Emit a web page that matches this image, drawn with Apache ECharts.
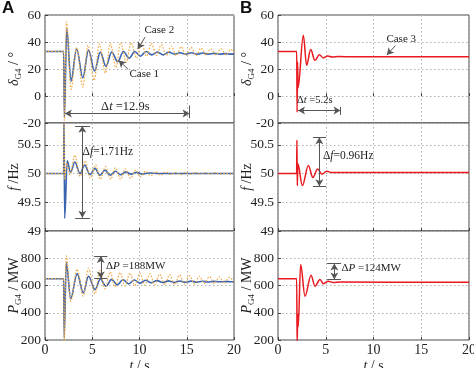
<!DOCTYPE html>
<html><head><meta charset="utf-8">
<script src="https://cdn.jsdelivr.net/npm/echarts@6/dist/echarts.min.js"></script>
<style>html,body{margin:0;padding:0;background:#fff}#c{width:474px;height:368px}</style>
</head><body><div id="c"></div>
<script>
// ---- axis ticks ----
const xTicks = [0, 5, 10, 15, 20];
const deltaTicks = [-20, 0, 20, 40, 60];
const freqTicks = [49, 49.5, 50, 50.5];
const powerTicks = [200, 400, 600, 800];
const deltaMax = 60, freqMax = 50.88, powerMax = 1000;

// ---- Panel A: Case 1 (blue), Case 2 (orange dotted) ----
const case1Delta = [[0,33],[1.97,33],[2.05,-16],[2.3,50],[2.75,11],[3.35,35],[4.0,13.5],[4.6,34],[5.25,18.5],[5.85,32.5],[6.45,22],[7.05,32.5],[7.7,25.5],[8.3,33],[8.9,28],[9.5,33],[10.1,29.5],[10.7,33],[11.3,30.5],[11.9,32.5],[12.5,30.5],[13.1,32.5],[13.7,31],[14.3,32],[14.9,31],[15.5,32],[16.1,31],[16.7,31.8],[17.3,31],[17.9,31.6],[18.5,31],[19.1,31.4],[19.7,31],[20,31.2]];
const case2Delta = [[0,33],[1.97,33],[2.05,-18],[2.28,55],[2.75,5],[3.35,36],[4.0,6.5],[4.55,37.5],[5.2,11.5],[5.75,38.5],[6.4,17],[6.9,39],[7.5,21],[8.0,39.5],[8.6,25],[9.1,39.5],[9.7,28],[10.2,39.5],[10.75,29.5],[11.25,39],[11.8,30],[12.3,38],[12.85,30],[13.35,37],[13.9,30],[14.4,36.5],[14.95,30],[15.45,36],[16.0,30],[16.5,35.5],[17.05,30.5],[17.55,35],[18.1,30.5],[18.6,35],[19.15,30.5],[19.65,34.5],[20,32]];
const case1Freq = [[0,50],[1.97,50],[2.01,51.0],[2.08,49.22],[2.35,50.22],[2.7,50.02],[3.15,50.2],[3.7,50.0],[4.2,50.15],[4.75,49.98],[5.3,50.09],[5.8,49.97],[6.35,50.06],[6.9,49.97],[7.45,50.04],[8.0,49.98],[8.55,50.03],[9.1,49.99],[9.7,50.02],[10.3,49.99],[11.0,50.01],[12.0,50],[20,50]];
const case2Freq = [[0,50],[1.97,50],[2.01,51.0],[2.08,49.9],[2.3,50.18],[2.65,49.98],[3.15,50.32],[3.7,49.95],[4.25,50.22],[4.8,49.92],[5.35,50.15],[5.85,49.9],[6.4,50.12],[6.95,49.9],[7.45,50.1],[8.0,49.9],[8.5,50.08],[9.05,49.92],[9.6,50.06],[10.1,49.94],[10.65,50.04],[11.2,49.96],[11.7,50.03],[12.25,49.97],[12.75,50.03],[13.3,49.98],[13.8,50.02],[14.35,49.98],[14.85,50.02],[15.4,49.99],[15.9,50.02],[16.45,49.99],[17.0,50.015],[17.5,49.99],[18.0,50.015],[18.55,49.99],[19.1,50.01],[19.6,49.99],[20,50]];
const case1Power = [[0,650],[1.97,650],[2.03,220],[2.25,768],[2.72,504],[3.4,687],[4.05,546],[4.6,668],[5.3,570],[5.85,648],[6.45,595],[7.05,645],[7.65,605],[8.25,642],[8.85,612],[9.45,640],[10.05,617],[10.65,638],[11.25,620],[11.85,636],[12.45,622],[13.05,634],[13.65,623],[14.25,633],[14.85,624],[15.45,632],[16.05,625],[16.65,631],[17.25,626],[17.85,630],[18.45,627],[19.05,629],[19.65,627.5],[20,628]];
const case2Power = [[0,650],[1.97,650],[2.03,190],[2.25,817],[2.72,484],[3.4,719],[4.05,521],[4.6,725],[5.3,539],[5.8,712],[6.35,575],[6.9,700],[7.4,590],[7.95,695],[8.45,597],[9.0,692],[9.5,600],[10.05,690],[10.55,602],[11.1,686],[11.6,605],[12.15,683],[12.65,607],[13.2,680],[13.7,608],[14.25,676],[14.75,610],[15.3,672],[15.8,612],[16.35,668],[16.85,613],[17.4,665],[17.9,614],[18.45,663],[18.95,615],[19.5,660],[20,630]];

// ---- Panel B: Case 3 (red) ----
const case3Delta = [[0,33],[1.96,33],[2.0,-12],[2.05,25],[2.1,6],[2.65,45],[3.0,22.7],[3.42,34.4],[3.87,26.4],[4.33,30.5],[4.75,28.2],[5.2,29.6],[5.7,28.8],[6.3,29.2],[8,29],[20,29]];
const case3Freq = [[0,50],[1.95,50],[1.98,50.58],[2.02,49.79],[2.08,50.17],[2.55,49.79],[3.18,50.14],[3.65,49.93],[4.15,50.08],[4.6,49.99],[5.1,50.04],[5.6,50.02],[20,50.02]];
const case3Power = [[0,650],[1.96,650],[2.0,170],[2.07,390],[2.12,300],[2.37,755],[2.83,521],[3.46,676],[3.87,595],[4.4,644],[4.75,613],[5.27,632],[5.8,622],[6.5,625],[20,624]];

// ---- annotations (data units) ----
const dtA = {from:[2.1,-13], to:[15.3,-13], tick:[[15.3,-7],[15.3,-16.5]], text:[8.5,-8.2], label:' =12.9s', sym:'t', size:12.5};
const dtB = {from:[2.1,-10.7], to:[6.55,-10.7], tick:[[6.55,-8],[6.55,-14]], text:[3.85,-3.5], label:' =5.2s', sym:'t', size:10.5};
const dfA = {from:[3.95,50.83], to:[3.95,49.23], ticks:[[3.2,4.75]], text:[6.65,50.38], label:'=1.71Hz', sym:'f', size:11.5};
const dfB = {from:[4.33,50.63], to:[4.33,49.78], ticks:[[3.66,5.03]], text:[7.35,50.30], label:'=0.96Hz', sym:'f', size:11.5};
const dpA = {from:[5.9,817], to:[5.9,652], ticks:[[5.2,6.6]], text:[9.6,743], label:' =188MW', sym:'P', size:11};
const dpB = {from:[5.9,761], to:[5.9,644], ticks:[[5.15,6.6]], text:[9.75,731], label:' =124MW', sym:'P', size:11};
const caseLabels = [
  {panel:0, text:'Case 2', at:[12.1,48.7], from:[10.6,43.6], to:[9.8,34.8]},
  {panel:0, text:'Case 1', at:[10.5,16.0], from:[8.8,19.8], to:[7.8,26.3]},
  {panel:3, text:'Case 3', at:[12.9,42.4], from:[12.3,37.4], to:[11.4,30.3]}
];

const SERIF = 'Liberation Serif';
const BLUE = '#3b64ae', ORANGE = '#f0a845', RED = '#e8191f', INK = '#444';

const chart = echarts.init(document.getElementById('c'), null, {renderer:'canvas'});

const grids = [];
const xAxes = [], yAxes = [];
const colLeft = [45, 278], colWidth = [189, 191];
const rowTop = [15, 123, 231], rowH = [108, 108, 109];
const yTickSets = [deltaTicks, freqTicks, powerTicks];
const yMaxes = [deltaMax, freqMax, powerMax];
const richName = {
  i:{fontFamily:SERIF, fontStyle:'italic', fontSize:14, color:'#222', lineHeight:18},
  n:{fontFamily:SERIF, fontSize:14, color:'#222', lineHeight:18},
  s:{fontFamily:SERIF, fontSize:9, color:'#222', lineHeight:18, verticalAlign:'bottom', padding:[6,0,0,0]}
};
const yNames = ['{i|δ}{s|G4}{n| / °}', '{i|f}{n| /Hz}', '{i|P}{s|G4}{n| / MW}'];

for (let c = 0; c < 2; c++) {
  for (let r = 0; r < 3; r++) {
    const k = c*3 + r;
    grids.push({left:colLeft[c], top:rowTop[r], width:colWidth[c], height:rowH[r], show:true, borderColor:INK, borderWidth:1, backgroundColor:'#fff', containLabel:false, outerBoundsMode:'none'});
    xAxes.push({
      type:'value', gridIndex:k, min:xTicks[0], max:xTicks[xTicks.length-1], interval:xTicks[1]-xTicks[0],
      axisLine:{show:false}, axisTick:{show:true, inside:true, length:3, lineStyle:{color:INK}},
      axisLabel:{show:r===2, fontFamily:SERIF, fontSize:14, color:'#222', margin:3},
      splitLine:{show:true, lineStyle:{color:'#b0b0b0', type:[1.5,2.5], width:1}},
      name: r===2 ? '{i|t}{n| / s}' : '', nameLocation:'middle', nameGap:17, nameMoveOverlap:false,
      nameTextStyle:{rich:richName}
    });
    const t = yTickSets[r];
    yAxes.push({
      type:'value', gridIndex:k, min:t[0], max:yMaxes[r], interval:t[1]-t[0],
      axisLine:{show:false}, axisTick:{show:true, inside:true, length:3, lineStyle:{color:INK}},
      axisLabel:{fontFamily:SERIF, fontSize:13.5, color:'#222', margin:4, showMaxLabel: r===0},
      splitLine:{show:true, lineStyle:{color:'#b0b0b0', type:[1.5,2.5], width:1}},
      name:yNames[r], nameLocation:'middle', nameRotate:90, nameGap:22, nameMoveOverlap:false,
      nameTextStyle:{rich:richName}
    });
  }
}

const arrowLine = {color:'#555', width:1, type:'solid'};

function measureMarks(m) {
  const lines = [[{coord:m.from, symbol:'arrow'}, {coord:m.to, symbol:'arrow'}]];
  if (m.tick) lines.push([{coord:m.tick[0], symbol:'none'}, {coord:m.tick[1], symbol:'none'}]);
  if (m.ticks) {
    const xr = m.ticks[0];
    lines.push([{coord:[xr[0], m.from[1]], symbol:'none'}, {coord:[xr[1], m.from[1]], symbol:'none'}]);
    lines.push([{coord:[xr[0], m.to[1]], symbol:'none'}, {coord:[xr[1], m.to[1]], symbol:'none'}]);
  }
  const rich = {
    n:{fontFamily:SERIF, fontSize:m.size, color:'#222'},
    i:{fontFamily:SERIF, fontSize:m.size, fontStyle:'italic', color:'#222'}
  };
  return {
    markLine:{silent:true, symbolSize:[6,7], animation:false, lineStyle:arrowLine, label:{show:false}, data:lines},
    markPoint:{silent:true, symbol:'circle', symbolSize:0, animation:false,
      label:{show:true, position:'inside', rich:rich, formatter:'{n|Δ}{i|' + m.sym + '}{n|' + m.label + '}'},
      data:[{coord:m.text}]}
  };
}

function lineSeries(data, k, color, width, dash, z, extra) {
  return Object.assign({
    type:'line', xAxisIndex:k, yAxisIndex:k, data:data, symbol:'none', showSymbol:false,
    smooth:0.35, smoothMonotone:'x', clip:true, animation:false, z:z,
    lineStyle:{color:color, width:width, type:dash}
  }, extra || {});
}

function caseMarks(panel) {
  const items = caseLabels.filter(c => c.panel === panel);
  return {
    markLine:{silent:true, symbolSize:[6,7], animation:false, lineStyle:arrowLine, label:{show:false},
      data: items.map(c => [{coord:c.from, symbol:'none'}, {coord:c.to, symbol:'arrow'}])},
    markPoint:{silent:true, symbol:'circle', symbolSize:0, animation:false,
      label:{show:true, position:'inside', fontFamily:SERIF, fontSize:11, color:'#222', formatter:p => p.name},
      data: items.map(c => ({coord:c.at, name:c.text}))}
  };
}

const series = [
  lineSeries(case1Delta, 0, BLUE, 1.6, 'solid', 3),
  lineSeries(case2Delta, 0, ORANGE, 1.2, [1.6,1.6], 4, measureMarks(dtA)),
  lineSeries(case2Delta.slice(0,1), 0, 'rgba(0,0,0,0)', 0, 'solid', 5, caseMarks(0)),
  lineSeries(case1Freq, 1, BLUE, 1.6, 'solid', 3),
  lineSeries(case2Freq, 1, ORANGE, 1.2, [1.6,1.6], 4, measureMarks(dfA)),
  lineSeries(case1Power, 2, BLUE, 1.6, 'solid', 3),
  lineSeries(case2Power, 2, ORANGE, 1.2, [1.6,1.6], 4, measureMarks(dpA)),
  lineSeries(case3Delta, 3, RED, 1.5, 'solid', 3, measureMarks(dtB)),
  lineSeries(case3Delta.slice(0,1), 3, 'rgba(0,0,0,0)', 0, 'solid', 5, caseMarks(3)),
  lineSeries(case3Freq, 4, RED, 1.5, 'solid', 3, measureMarks(dfB)),
  lineSeries(case3Power, 5, RED, 1.5, 'solid', 3, measureMarks(dpB))
];

chart.setOption({
  backgroundColor:'#fff',
  animation:false,
  grid:grids, xAxis:xAxes, yAxis:yAxes, series:series,
  graphic:[
    {type:'text', left:2, top:0, style:{text:'A', font:'bold 17px "Liberation Sans"', fill:'#111'}},
    {type:'text', left:240, top:0, style:{text:'B', font:'bold 17px "Liberation Sans"', fill:'#111'}}
  ]
});
</script></body></html>
